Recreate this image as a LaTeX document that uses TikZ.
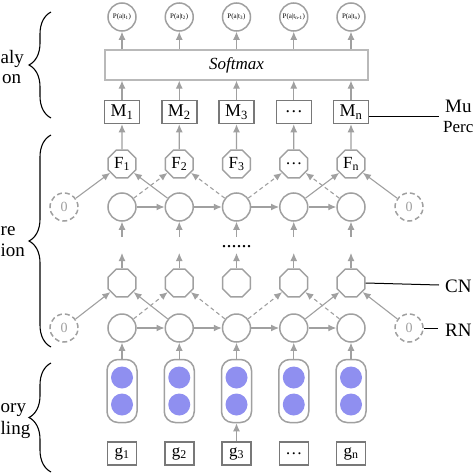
\documentclass[tikz,border=0pt]{standalone}
\usepackage{fontspec}
\setmainfont{Liberation Serif}
\usetikzlibrary{shapes.geometric,arrows.meta,decorations.pathreplacing}
\definecolor{linegray}{RGB}{160,160,160}
\definecolor{boxgray}{RGB}{120,120,120}
\definecolor{softgray}{RGB}{185,185,185}
\definecolor{dotblue}{RGB}{143,143,240}
\tikzset{
  arr/.style={draw=linegray,line width=1.1pt,-{Latex[length=8pt,width=7pt]}},
  darr/.style={arr,dash pattern=on 4pt off 3pt},
  prob/.style={circle,draw=linegray,line width=1.5pt,minimum size=28pt,inner sep=0pt,font=\fontsize{7}{8}\selectfont},
  mlp/.style={rectangle,draw=boxgray,line width=1.5pt,minimum width=35pt,minimum height=23pt,inner sep=0pt,font=\fontsize{18}{20}\selectfont},
  feat/.style={regular polygon,regular polygon sides=8,draw=linegray,line width=1.5pt,minimum size=30pt,inner sep=0pt,font=\fontsize{17}{19}\selectfont},
  cell/.style={circle,draw=linegray,line width=1.5pt,minimum size=28pt,inner sep=0pt},
  zero/.style={cell,dash pattern=on 5pt off 3pt,text=linegray,font=\fontsize{14}{16}\selectfont},
  pill/.style={rectangle,rounded corners=11pt,draw=linegray,line width=1.5pt,minimum width=30pt,minimum height=63pt},
  blob/.style={circle,fill=dotblue,minimum size=22pt,inner sep=0pt},
  inbox/.style={rectangle,draw=boxgray,line width=1.5pt,minimum width=29pt,minimum height=23pt,inner sep=0pt,font=\fontsize{17}{19}\selectfont},
  side/.style={inner sep=0pt,font=\fontsize{19}{21}\selectfont},
  bracket/.style={decorate,decoration={brace,amplitude=22pt},line width=1.1pt}
}
\begin{document}
\begin{tikzpicture}[x=1pt,y=-1pt]
\useasboundingbox (0,0) rectangle (474,474);

% columns
\foreach \i/\pl/\ml/\fl/\gl in {1/{P(a|t\textsubscript{1})}/{M\textsubscript{1}}/{F\textsubscript{1}}/{g\textsubscript{1}},
  2/{P(a|t\textsubscript{2})}/{M\textsubscript{2}}/{F\textsubscript{2}}/{g\textsubscript{2}},
  3/{P(a|t\textsubscript{3})}/{M\textsubscript{3}}/{F\textsubscript{3}}/{g\textsubscript{3}},
  4/{P(a|t\textsubscript{n-1})}/{\dots}/{\dots}/{\dots},
  5/{P(a|t\textsubscript{n})}/{M\textsubscript{n}}/{F\textsubscript{n}}/{g\textsubscript{n}}} {
  \pgfmathsetmacro{\x}{122+57.25*(\i-1)}
  \node[prob] (p\i) at (\x,17) {\pl};
  \node[mlp] (m\i) at (\x,112) {\ml};
  \node[feat] (f\i) at (\x,164) {\fl};
  \node[cell] (u\i) at (\x,207) {};
  \coordinate (us\i) at (\x,237);
  \coordinate (lt\i) at (\x,253);
  \node[feat] (l\i) at (\x,283) {};
  \node[cell] (r\i) at (\x,328) {};
  \node[pill] (b\i) at (\x,391) {};
  \node[blob] at (\x,377.5) {};
  \node[blob] at (\x,404.5) {};
  \node[inbox] (g\i) at (\x,453.5) {\gl};
}
\node[rectangle,draw=softgray,line width=1.3pt,minimum width=263pt,minimum height=30pt,
  font=\fontsize{17}{19}\selectfont\itshape] (sm) at (236.5,65) {Softmax};
\node[inner sep=0pt,font=\fontsize{20}{20}\selectfont] (gap) at (236.5,247) {......};

% padding cells
\node[zero] (zl1) at (64,207) {0};
\node[zero] (zr1) at (409,207) {0};
\node[zero] (zl2) at (64,328) {0};
\node[zero] (zr2) at (409,328) {0};

% vertical arrows
\foreach \i in {1,...,5} {
  \draw[arr] (sm.north -| p\i) -- (p\i);
  \draw[arr] (m\i) -- (m\i |- sm.south);
  \draw[arr] (f\i) -- (m\i);
  \draw[arr] (us\i) -- (u\i);
  \draw[arr] (l\i) -- (lt\i);
  \draw[arr] (b\i) -- (r\i);
}
\draw[arr] (g3) -- (b3);

% recurrence
\foreach \i/\j in {1/2,2/3,3/4,4/5} {
  \draw[arr] (u\i) -- (u\j);
  \draw[arr] (r\i) -- (r\j);
}

% convolution windows
\foreach \c/\o/\zl/\zr in {u/f/zl1/zr1, r/l/zl2/zr2} {
  \draw[arr] (\zl) -- (\o1);
  \draw[arr] (\c2) -- (\o1);
  \draw[darr] (\c1) -- (\o2);
  \draw[darr] (\c3) -- (\o2);
  \draw[darr] (\c3) -- (\o4);
  \draw[darr] (\c5) -- (\o4);
  \draw[arr] (\c4) -- (\o5);
  \draw[arr] (\zr) -- (\o5);
}

% braces and side labels
\draw[bracket] (51,118) -- (51,12);
\draw[bracket] (51,347) -- (51,135);
\draw[bracket] (51,472) -- (51,363);
\node[side,anchor=base west] at (0.5,63) {aly};
\node[side,anchor=base west] at (2,83) {on};
\node[side,anchor=base west] at (0.5,235) {re};
\node[side,anchor=base west] at (0.5,256) {ion};
\node[side,anchor=base west] at (0.5,412) {ory};
\node[side,anchor=base west] at (0.5,434) {ling};

\node[side,anchor=base west] (mlptext) at (445,112) {Mu};
\node[side,anchor=base west,font=\fontsize{17}{19}\selectfont] at (443,132) {Perc};
\node[side,anchor=base west] (cnntext) at (445,292) {CN};
\node[side,anchor=base west] (rnntext) at (445,336) {RN};
\coordinate (mlpend) at (439,116);
\coordinate (cnnend) at (439,285);
\coordinate (rnnend) at (438,328);
\draw[line width=1pt] (m5.east |- mlpend) -- (mlpend);
\draw[line width=1pt] (l5.east) -- (cnnend);
\draw[line width=1pt] (zr2.east) -- (rnnend);
\end{tikzpicture}
\end{document}
